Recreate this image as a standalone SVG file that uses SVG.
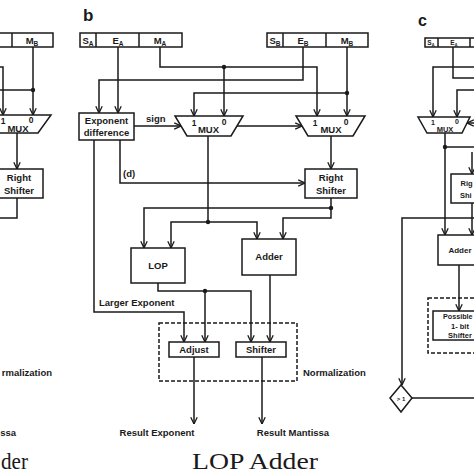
<svg xmlns="http://www.w3.org/2000/svg" width="474" height="474" viewBox="0 0 474 474">
<defs>
<marker id="ah" viewBox="0 0 10 10" refX="9.5" refY="5" markerWidth="8" markerHeight="8" markerUnits="userSpaceOnUse" orient="auto">
<path d="M1,1 L9.5,5 L1,9" fill="none" stroke="#1a1a1a" stroke-width="1.6"/>
</marker>
<style>
.b{fill:#fff;stroke:#1a1a1a;stroke-width:1.5}
.d{fill:none;stroke:#1a1a1a;stroke-width:1.5;stroke-dasharray:4,2}
.w{fill:none;stroke:#1a1a1a;stroke-width:1.5}
.a{fill:none;stroke:#1a1a1a;stroke-width:1.5;marker-end:url(#ah)}
text{font-family:"Liberation Sans",Arial,sans-serif;font-weight:bold;fill:#1a1a1a}
.t{font-size:9.5px;text-anchor:middle}
.n{font-size:8.5px;text-anchor:middle}
.s{font-size:7.5px;text-anchor:middle}
.l{font-size:9.5px}
.cap{font-family:"Liberation Serif","Times New Roman",serif;font-weight:normal;font-size:23px}
.sub{font-size:6.5px}
.dot{fill:#1a1a1a}
</style>
</defs>
<rect width="474" height="474" fill="#fff"/>

<g id="connectors">
<path class="a" d="M-2,67 H3 V115"/>
<path class="a" d="M33,47 V115"/>
<path class="w" d="M-2,90 H33"/>
<path class="a" d="M17,133 V169"/>
<path class="w" d="M17,198 V218 H-2"/>
<path class="a" d="M118,47 V113"/>
<path class="a" d="M303,47 V80 H99 V113"/>
<path class="a" d="M160,47 V67 H317 V116"/>
<path class="a" d="M224,67 V116"/>
<path class="a" d="M347,47 V116"/>
<path class="a" d="M347,93 H194 V116"/>
<path class="a" d="M134,126 H181"/>
<path class="a" d="M237,126 H302"/>
<path class="a" d="M331,136 V169"/>
<path class="w" d="M208,136 V222"/>
<path class="a" d="M208,222 H171 V248"/>
<path class="a" d="M208,222 H257 V239"/>
<path class="a" d="M120,140 V183 H305"/>
<path class="w" d="M331,198 V208"/>
<path class="a" d="M331,208 H144 V248"/>
<path class="a" d="M331,208 V218 H283 V239"/>
<path class="w" d="M158,283 V291 H205"/>
<path class="a" d="M205,291 H251 V342"/>
<path class="a" d="M205,291 V342"/>
<path class="a" d="M270,275 V342"/>
<path class="a" d="M94,140 V312 H184 V342"/>
<path class="a" d="M194,357 V424"/>
<path class="a" d="M262,357 V424"/>
<path class="w" d="M453,47 V78 H476"/>
<path class="a" d="M476,67 H433 V117"/>
<path class="a" d="M476,90 H457 V117"/>
<path class="a" d="M476,123 H467"/>
<path class="a" d="M445,133 V235"/>
<path class="w" d="M445,147 H476"/>
<path class="a" d="M472,152 V174"/>
<path class="a" d="M472,203 V235"/>
<path class="a" d="M476,218 H402 V385"/>
<path class="a" d="M459,265 V311"/>
<path class="w" d="M412,398 H476"/>
<circle class="dot" cx="33" cy="90" r="2.2"/>
<circle class="dot" cx="224" cy="67" r="2.2"/>
<circle class="dot" cx="347" cy="93" r="2.2"/>
<circle class="dot" cx="208" cy="222" r="2.2"/>
<circle class="dot" cx="331" cy="208" r="2.2"/>
<circle class="dot" cx="205" cy="291" r="2.2"/>
<circle class="dot" cx="445" cy="147" r="2.2"/>
</g>

<g id="a-register">
<rect class="b" x="-2" y="33" width="55" height="14"/>
<line class="w" x1="12" y1="33" x2="12" y2="47"/>
<text class="t" x="32" y="44">M<tspan class="sub" dy="2">B</tspan></text>
</g>
<g id="a-mux">
<polygon class="b" points="-20,115 51,115 38,133 -8,133"/>
<text class="n" x="3" y="124">1</text>
<text class="t" x="18" y="132">MUX</text>
<text class="n" x="31" y="123">0</text>
</g>
<g id="a-right-shifter">
<rect class="b" x="-6" y="169" width="49" height="29"/>
<text class="t" x="19" y="181">Right</text>
<text class="t" x="19" y="194">Shifter</text>
</g>
<g id="a-labels">
<text class="l" x="52" y="376" style="text-anchor:end">rmalization</text>
<text class="l" x="16" y="436" style="text-anchor:end">ssa</text>
<text class="cap" x="1" y="468.5" textLength="27" lengthAdjust="spacingAndGlyphs">der</text>
</g>

<text class="l" x="83" y="21" style="font-size:17px">b</text>
<g id="b-register-a">
<rect class="b" x="80" y="33" width="102" height="14"/>
<line class="w" x1="96" y1="33" x2="96" y2="47"/>
<line class="w" x1="139" y1="33" x2="139" y2="47"/>
<text class="t" x="88" y="44">S<tspan class="sub" dy="2">A</tspan></text>
<text class="t" x="118" y="44">E<tspan class="sub" dy="2">A</tspan></text>
<text class="t" x="160" y="44">M<tspan class="sub" dy="2">A</tspan></text>
</g>
<g id="b-register-b">
<rect class="b" x="267" y="33" width="101" height="14"/>
<line class="w" x1="283" y1="33" x2="283" y2="47"/>
<line class="w" x1="326" y1="33" x2="326" y2="47"/>
<text class="t" x="275" y="44">S<tspan class="sub" dy="2">B</tspan></text>
<text class="t" x="303" y="44">E<tspan class="sub" dy="2">B</tspan></text>
<text class="t" x="347" y="44">M<tspan class="sub" dy="2">B</tspan></text>
</g>
<g id="b-exp-diff">
<rect class="b" x="79" y="113" width="55" height="27"/>
<text class="t" x="106.5" y="124">Exponent</text>
<text class="t" x="106.5" y="136">difference</text>
</g>
<text class="l" x="146" y="122">sign</text>
<g id="b-mux-left">
<polygon class="b" points="175,116 243,116 231,136 187,136"/>
<text class="n" x="194" y="126">1</text>
<text class="t" x="208.5" y="133">MUX</text>
<text class="n" x="224" y="125">0</text>
</g>
<g id="b-mux-right">
<polygon class="b" points="296,116 365,116 353,136 308,136"/>
<text class="n" x="315" y="126">1</text>
<text class="t" x="331" y="133">MUX</text>
<text class="n" x="346" y="125">0</text>
</g>
<g id="b-right-shifter">
<rect class="b" x="305" y="169" width="52" height="29"/>
<text class="t" x="331" y="181">Right</text>
<text class="t" x="331" y="194">Shifter</text>
</g>
<text class="l" x="123" y="177">(d)</text>
<g id="b-lop">
<rect class="b" x="131" y="248" width="54" height="35"/>
<text class="t" x="158" y="269">LOP</text>
</g>
<g id="b-adder">
<rect class="b" x="242" y="239" width="54" height="36"/>
<text class="t" x="269" y="260">Adder</text>
</g>
<text class="l" x="99" y="306">Larger Exponent</text>
<g id="b-normalization">
<rect class="d" x="159" y="323" width="138" height="58"/>
<text class="l" x="303" y="376">Normalization</text>
</g>
<g id="b-adjust">
<rect class="b" x="169" y="342" width="50" height="15"/>
<text class="t" x="194" y="353">Adjust</text>
</g>
<g id="b-shifter">
<rect class="b" x="236" y="342" width="50" height="15"/>
<text class="t" x="261" y="353">Shifter</text>
</g>
<text class="t" x="157" y="436">Result Exponent</text>
<text class="t" x="293" y="436">Result Mantissa</text>
<text class="cap" x="192" y="468.5" textLength="126" lengthAdjust="spacingAndGlyphs">LOP Adder</text>

<text class="l" x="418" y="26" style="font-size:16px">c</text>
<g id="c-register">
<rect class="b" x="425" y="38" width="60" height="9"/>
<line class="w" x1="438" y1="38" x2="438" y2="47"/>
<line class="w" x1="470" y1="38" x2="470" y2="47"/>
<text class="s" x="431" y="45" style="font-size:6.5px">S<tspan dy="1.5" style="font-size:4.5px">A</tspan></text>
<text class="s" x="454" y="45" style="font-size:6.5px">E<tspan dy="1.5" style="font-size:4.5px">A</tspan></text>
</g>
<g id="c-mux">
<polygon class="b" points="418,117 470,117 462,133 427,133"/>
<text class="s" x="433" y="125" style="font-size:7px">1</text>
<text class="s" x="445" y="132">MUX</text>
<text class="s" x="457" y="124" style="font-size:7px">0</text>
</g>
<g id="c-right-shifter">
<rect class="b" x="451" y="174" width="46" height="29"/>
<text class="s" x="460.5" y="186" style="font-size:7.5px;text-anchor:start">Rig</text>
<text class="s" x="460" y="198" style="font-size:7.5px;text-anchor:start">Shi</text>
</g>
<g id="c-adder">
<rect class="b" x="438" y="235" width="44" height="30"/>
<text class="s" x="460" y="253" style="font-size:8px">Adder</text>
</g>
<g id="c-shift-block">
<rect class="d" x="428" y="298" width="72" height="55"/>
<rect class="b" x="433" y="311" width="57" height="29"/>
<text class="s" x="443" y="319" style="font-size:7.2px;text-anchor:start">Possible</text>
<text class="s" x="460" y="329">1- bit</text>
<text class="s" x="460" y="338">Shifter</text>
</g>
<g id="c-compare">
<polygon class="b" points="401,385 412,398 401,412 390,398"/>
<text class="s" x="401" y="400.5" style="font-size:6px">&gt; 1</text>
</g>
</svg>
